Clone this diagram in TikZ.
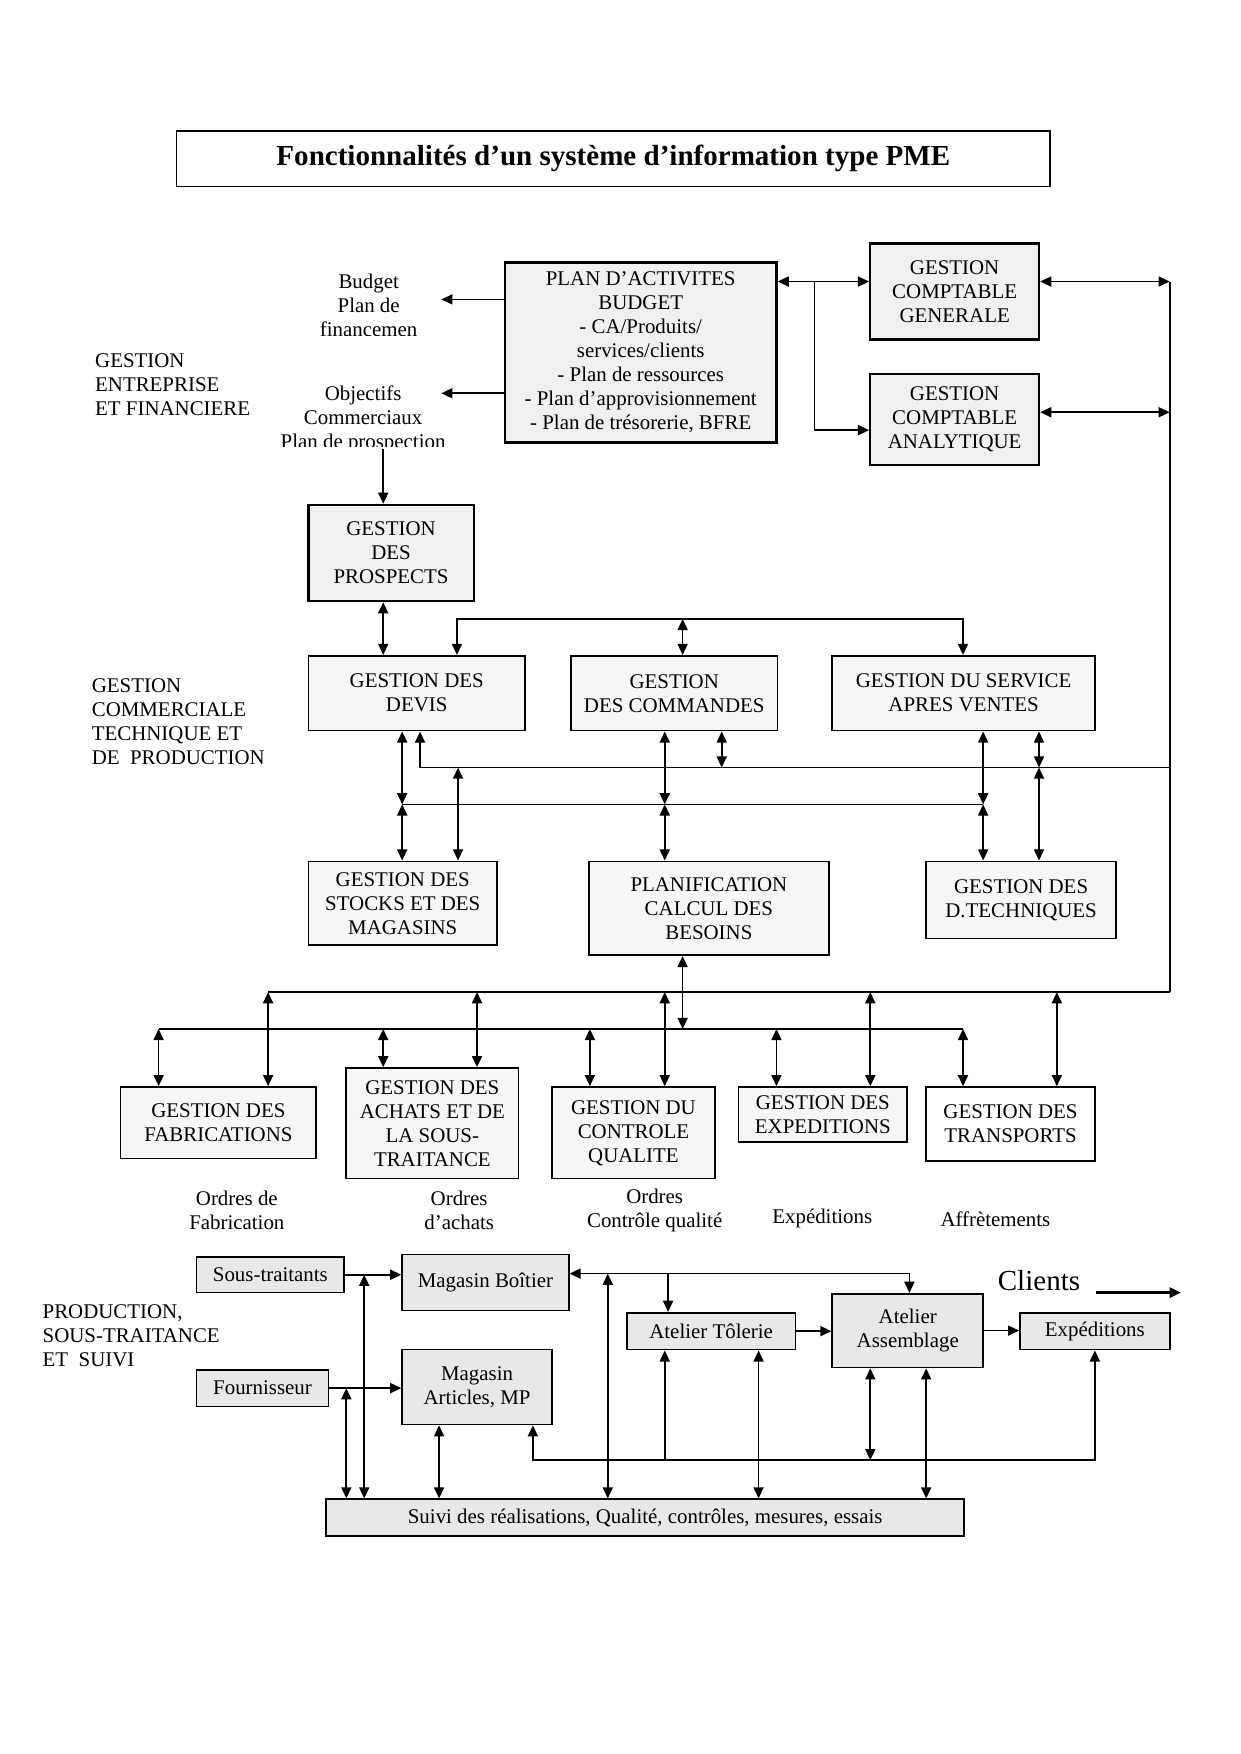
\documentclass[tikz,border=0pt]{standalone}
\usepackage{fontspec}
\setmainfont{Liberation Serif}
\usetikzlibrary{arrows.meta}
\definecolor{boxfill}{gray}{0.965}
\definecolor{darkfill}{gray}{0.94}
\definecolor{shopfill}{gray}{0.91}
\newcommand{\txt}{\fontsize{18.7}{21.5}\selectfont}

\begin{document}
\begin{tikzpicture}[x=1pt, y=-1pt, >={Triangle[length=10pt,width=9pt]},
  every node/.style={font=\txt, align=center, inner sep=0pt},
  box/.style={draw, line width=1.5pt, fill=boxfill},
  heavy/.style={draw, line width=2.1pt, fill=darkfill},
  shop/.style={draw, line width=1.5pt, fill=shopfill},
  link/.style={line width=1.5pt}]
\useasboundingbox (0,0) rectangle (1110,1570);

\node[draw, line width=1.5pt, minimum width=782pt, minimum height=50pt, font=\fontsize{26}{30}\selectfont\bfseries] (title) at (549,142) {Fonctionnalités d’un système d’information type PME};

\node[anchor=west, align=left] (zone1) at (85,344) {GESTION\\ENTREPRISE\\ET FINANCIERE};
\node[anchor=west, align=left] (zone2) at (82,646) {GESTION\\COMMERCIALE\\TECHNIQUE ET\\DE\ \ PRODUCTION};
\node[anchor=west, align=left] (zone3) at (38,1196) {PRODUCTION,\\SOUS-TRAITANCE\\ET\ \ SUIVI};

\begin{scope}
\clip (240,230) rectangle (420,300);
\node (budget) at (330,273) {Budget\\Plan de\\financemen};
\end{scope}
\begin{scope}
\clip (240,330) rectangle (420,400);
\node (objectifs) at (325,375) {Objectifs\\Commerciaux\\Plan de prospection};
\end{scope}

\node[heavy, minimum width=243pt, minimum height=161pt] (plan) at (573.5,315.5) {PLAN D’ACTIVITES\\BUDGET\\- CA/Produits/\\services/clients\\- Plan de ressources\\- Plan d’approvisionnement\\- Plan de trésorerie, BFRE};
\node[heavy, minimum width=151pt, minimum height=86pt] (cg) at (854.5,261) {GESTION\\COMPTABLE\\GENERALE};
\node[heavy, minimum width=151pt, minimum height=81pt] (ca) at (854.5,375.5) {GESTION\\COMPTABLE\\ANALYTIQUE};
\node[heavy, minimum width=148pt, minimum height=86pt] (prosp) at (350,495) {GESTION\\DES\\PROSPECTS};

\node[box, minimum width=194pt, minimum height=67pt] (devis) at (373,620.5) {GESTION DES\\DEVIS};
\node[box, minimum width=185pt, minimum height=67pt] (com) at (603.5,620.5) {GESTION\\DES COMMANDES};
\node[box, minimum width=235pt, minimum height=67pt] (sav) at (862.5,620.5) {GESTION DU SERVICE\\APRES VENTES};

\node[box, minimum width=169pt, minimum height=75pt] (stocks) at (360.5,808.5) {GESTION DES\\STOCKS ET DES\\MAGASINS};
\node[box, minimum width=215pt, minimum height=84pt] (planif) at (634.5,813) {PLANIFICATION\\CALCUL DES\\BESOINS};
\node[box, minimum width=170pt, minimum height=69pt] (dtech) at (914,805.5) {GESTION DES\\D.TECHNIQUES};

\node[box, minimum width=175pt, minimum height=64pt] (fab) at (195.5,1005) {GESTION DES\\FABRICATIONS};
\node[box, minimum width=154pt, minimum height=99pt] (ach) at (387,1005.5) {GESTION DES\\ACHATS ET DE\\LA SOUS-\\TRAITANCE};
\node[box, minimum width=146pt, minimum height=82pt] (cq) at (567,1014) {GESTION DU\\CONTROLE\\QUALITE};
\node[box, minimum width=151pt, minimum height=49pt] (exp) at (736.5,997.5) {GESTION DES\\EXPEDITIONS};
\node[box, fill=white, minimum width=151pt, minimum height=66pt] (tra) at (904.5,1006) {GESTION DES\\TRANSPORTS};

\node (ofab) at (212,1083.5) {Ordres de\\Fabrication};
\node (oach) at (411,1083.5) {Ordres\\d’achats};
\node (ocq) at (586,1083.5) {Ordres\\Contrôle qualité};
\node (oexp) at (736,1091) {Expéditions};
\node (oaff) at (891,1091) {Affrètements};

\node[shop, minimum width=132pt, minimum height=32pt] (st) at (242,1141) {Sous-traitants};
\node[shop, minimum width=118pt, minimum height=33pt] (fo) at (235,1242.5) {Fournisseur};
\node[shop, minimum width=149pt, minimum height=50pt] (mb) at (434.5,1148) {Magasin Boîtier};
\node[shop, minimum width=134pt, minimum height=67pt] (ma) at (427,1241.5) {Magasin\\Articles, MP};
\node[shop, minimum width=151pt, minimum height=33pt] (tol) at (636.5,1191.5) {Atelier Tôlerie};
\node[shop, minimum width=135pt, minimum height=66pt] (asm) at (812.5,1191) {Atelier\\Assemblage};
\node[shop, minimum width=134pt, minimum height=33pt] (expd) at (980,1191.5) {Expéditions};
\node[shop, minimum width=571pt, minimum height=33pt] (suivi) at (577.5,1358.5) {Suivi des réalisations, Qualité, contrôles, mesures, essais};
\node[font=\fontsize{26}{30}\selectfont] (clients) at (930,1146) {Clients};

\coordinate (bud) at (395,268);
\coordinate (obj) at (395,352);
\coordinate (pr0) at (343,402);
\coordinate (r1) at (729,252);
\coordinate (r2) at (729,385);
\coordinate (e1) at (1047,252);
\coordinate (e2) at (1047,369);
\coordinate (e3) at (1047,687);
\coordinate (e4) at (1047,888);
\coordinate (c1) at (409,554);
\coordinate (c2) at (611,554);
\coordinate (c3) at (862,554);
\coordinate (d1) at (376,687);
\coordinate (k1) at (410,687);
\coordinate (k2) at (646,687);
\coordinate (k3) at (930,687);
\coordinate (m1) at (360,720);
\coordinate (m2) at (595,720);
\coordinate (m3) at (880,720);
\coordinate (q1) at (611,921);
\coordinate (lo1) at (142,921);
\coordinate (lo2) at (343,921);
\coordinate (lo3) at (528,921);
\coordinate (lo4) at (695,921);
\coordinate (lo5) at (862,921);
\coordinate (hi1) at (240,888);
\coordinate (hi2) at (427,888);
\coordinate (hi3) at (595,888);
\coordinate (hi4) at (779,888);
\coordinate (hi5) at (946,888);
\coordinate (v1) at (326,1141);
\coordinate (v2) at (310,1242.5);
\coordinate (v3) at (393,1300);
\coordinate (w1) at (544,1140);
\coordinate (w2) at (598,1140);
\coordinate (w3) at (814,1140);
\coordinate (u1) at (477,1307);
\coordinate (u2) at (595,1307);
\coordinate (u3) at (779,1307);
\coordinate (u4) at (980,1307);
\coordinate (t1) at (679,1300);
\coordinate (t2) at (829,1300);
\coordinate (cl1) at (981,1157);
\coordinate (cl2) at (1057,1157);

\draw[link,->] (plan.west |- bud) -- (bud);
\draw[link,->] (plan.west |- obj) -- (obj);
\draw[link,->] (pr0) -- (prosp.north -| pr0);
\draw[link,<->] (prosp.south -| pr0) -- (devis.north -| pr0);
\draw[link,<->] (plan.east |- r1) -- (cg.west |- r1);
\draw[link,->] (r1) -- (r2) -- (ca.west |- r2);
\draw[link,<->] (cg.east |- e1) -- (e1);
\draw[link,<->] (ca.east |- e2) -- (e2);
\draw[link] (e1) -- (e4);
\draw[link,<->] (devis.north -| c1) -- (c1) -- (c3) -- (sav.north -| c3);
\draw[link,<->] (c2) -- (com.north -| c2);
\draw[link,->] (e3) -- (d1) -- (devis.south -| d1);
\draw[link,<->] (k1) -- (stocks.north -| k1);
\draw[link,<->] (com.south -| k2) -- (k2);
\draw[link,<->] (sav.south -| k3) -- (k3);
\draw[link,<->] (k3) -- (dtech.north -| k3);
\draw[link] (m1) -- (m3);
\draw[link,<->] (devis.south -| m1) -- (m1);
\draw[link,<->] (m1) -- (stocks.north -| m1);
\draw[link,<->] (com.south -| m2) -- (m2);
\draw[link,<->] (m2) -- (planif.north -| m2);
\draw[link,<->] (sav.south -| m3) -- (m3);
\draw[link,<->] (m3) -- (dtech.north -| m3);
\draw[link,<->] (planif.south -| q1) -- (q1);
\draw[link] (hi1) -- (e4);
\draw[link] (lo1) -- (lo5);
\draw[link,<->] (lo1) -- (fab.north -| lo1);
\draw[link,<->] (hi1) -- (fab.north -| hi1);
\draw[link,<->] (lo2) -- (ach.north -| lo2);
\draw[link,<->] (hi2) -- (ach.north -| hi2);
\draw[link,<->] (lo3) -- (cq.north -| lo3);
\draw[link,<->] (hi3) -- (cq.north -| hi3);
\draw[link,<->] (lo4) -- (exp.north -| lo4);
\draw[link,<->] (hi4) -- (exp.north -| hi4);
\draw[link,<->] (lo5) -- (tra.north -| lo5);
\draw[link,<->] (hi5) -- (tra.north -| hi5);

\draw[link,->] (st.east) -- (st.east -| mb.west);
\draw[link,->] (fo.east) -- (fo.east -| ma.west);
\draw[link,<->] (suivi.north -| v1) -- (v1);
\draw[link,<->] (suivi.north -| v2) -- (v2);
\draw[link,<->] (ma.south -| v3) -- (suivi.north -| v3);
\draw[link,<->] (mb.east |- w1) -- (w3) -- (asm.north -| w3);
\draw[link,<->] (suivi.north -| w1) -- (w1);
\draw[link,->] (w2) -- (tol.north -| w2);
\draw[link,->] (tol.east) -- (tol.east -| asm.west);
\draw[link,->] (asm.east) -- (asm.east -| expd.west);
\draw[link,<->] (ma.south -| u1) -- (u1) -- (u4) -- (expd.south -| u4);
\draw[link,->] (u2) -- (tol.south -| u2);
\draw[link,<->] (asm.south -| u3) -- (u3);
\draw[link,<->] (tol.south -| t1) -- (suivi.north -| t1);
\draw[link,<->] (asm.south -| t2) -- (suivi.north -| t2);
\draw[line width=2.8pt,->] (cl1) -- (cl2);
\end{tikzpicture}
\end{document}
